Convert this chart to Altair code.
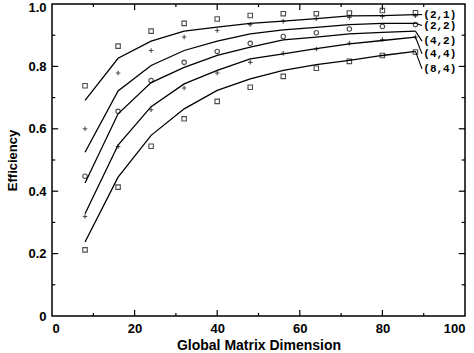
import altair as alt
import pandas as pd

sizes = [8, 16, 24, 32, 40, 48, 56, 64, 72, 80, 88]
series = ["(2,1)", "(2,2)", "(4,2)", "(4,4)", "(8,4)"]

# measured efficiencies (markers)
m21 = [0.738, 0.865, 0.913, 0.938, 0.952, 0.963, 0.969, 0.969, 0.971, 0.979, 0.972]
m22 = [0.600, 0.779, 0.851, 0.894, 0.915, 0.934, 0.945, 0.953, 0.957, 0.960, 0.962]
m42 = [0.448, 0.656, 0.755, 0.813, 0.848, 0.874, 0.896, 0.908, 0.920, 0.928, 0.934]
m44 = [0.319, 0.543, 0.661, 0.731, 0.779, 0.813, 0.842, 0.856, 0.874, 0.886, 0.894]
m84 = [0.212, 0.413, 0.544, 0.632, 0.688, 0.733, 0.768, 0.794, 0.816, 0.835, 0.846]

# predicted efficiencies (lines)
p21 = [0.691, 0.826, 0.881, 0.913, 0.926, 0.938, 0.945, 0.953, 0.962, 0.963, 0.966]
p22 = [0.525, 0.721, 0.803, 0.851, 0.881, 0.904, 0.917, 0.925, 0.934, 0.938, 0.938]
p42 = [0.426, 0.648, 0.748, 0.797, 0.835, 0.862, 0.885, 0.894, 0.904, 0.909, 0.913]
p44 = [0.328, 0.548, 0.671, 0.744, 0.787, 0.824, 0.840, 0.857, 0.872, 0.883, 0.894]
p84 = [0.237, 0.445, 0.579, 0.664, 0.723, 0.760, 0.787, 0.806, 0.819, 0.835, 0.848]

label_y = [0.966, 0.931, 0.881, 0.840, 0.792]
label_x = 89.9

x_ticks = [0, 20, 40, 60, 80, 100]
y_ticks = [0, 0.2, 0.4, 0.6, 0.8, 1.0]
x_major = [20, 40, 60, 80]
x_minor = [10, 30, 50, 70, 90]
y_major = [0.2, 0.4, 0.6, 0.8]
y_minor = [0.1, 0.3, 0.5, 0.7, 0.9]

measured = [m21, m22, m42, m44, m84]
predicted = [p21, p22, p42, p44, p84]
shape_map = {
    "(2,1)": "square",
    "(2,2)": "M-1,0L1,0M0,-1L0,1",
    "(4,2)": "circle",
    "(4,4)": "M-1,0L1,0M0,-1L0,1",
    "(8,4)": "square",
}

pts = pd.DataFrame([
    {"s": s, "x": x, "y": v, "shape": shape_map[s]}
    for s, vals in zip(series, measured) for x, v in zip(sizes, vals)
])
lines = pd.DataFrame([
    {"s": s, "x": x, "y": v}
    for s, vals in zip(series, predicted) for x, v in zip(sizes, vals)
])
leaders = pd.DataFrame([
    {"s": s, "x": sizes[-1], "y": vals[-1], "x2": label_x - 0.3, "y2": ly}
    for s, vals, ly in zip(series, predicted, label_y)
])
labels = pd.DataFrame({"s": series, "x": [label_x] * 5, "y": label_y})

XL = 1.5   # tick length in x units
YL = 0.019 # tick length in y units
XS = 0.8
YS = 0.010
tick_rows = []
for v in x_major:
    tick_rows.append({"x": v, "x2": v, "y": 0, "y2": YL})
    tick_rows.append({"x": v, "x2": v, "y": 1, "y2": 1 - YL})
for v in x_minor:
    tick_rows.append({"x": v, "x2": v, "y": 0, "y2": YS})
    tick_rows.append({"x": v, "x2": v, "y": 1, "y2": 1 - YS})
for v in y_major:
    tick_rows.append({"x": 0, "x2": XL, "y": v, "y2": v})
    tick_rows.append({"x": 100, "x2": 100 - XL, "y": v, "y2": v})
for v in y_minor:
    tick_rows.append({"x": 0, "x2": XS, "y": v, "y2": v})
    tick_rows.append({"x": 100, "x2": 100 - XS, "y": v, "y2": v})
ticks = pd.DataFrame(tick_rows)

FONT = "Liberation Sans"
xs = alt.Scale(domain=[0, 100], nice=False)
ys = alt.Scale(domain=[0, 1], nice=False)

xaxis = alt.Axis(values=x_ticks, ticks=False, domain=False, grid=False,
                 labelFont=FONT, labelFontWeight="bold", labelFontSize=13,
                 labelColor="black", labelPadding=6,
                 title="Global Matrix Dimension", titleFont=FONT,
                 titleFontWeight="bold", titleFontSize=14, titleColor="black",
                 titlePadding=3)
yaxis = alt.Axis(values=y_ticks, ticks=False, domain=False, grid=False,
                 labelFont=FONT, labelFontWeight="bold", labelFontSize=13,
                 labelColor="black", labelPadding=6,
                 labelBaseline={"condition": {"test": "datum.value == 1", "value": "top"},
                                "value": "middle"},
                 labelOffset={"condition": {"test": "datum.value == 1", "value": -3},
                              "value": 0},
                 labelExpr="datum.value == 0 ? '0' : format(datum.value, '.1f')",
                 title="Efficiency", titleFont=FONT, titleFontWeight="bold",
                 titleFontSize=13, titleColor="black", titlePadding=8)

line_layer = alt.Chart(lines).mark_line(color="black", strokeWidth=1.3).encode(
    x=alt.X("x:Q", scale=xs, axis=xaxis),
    y=alt.Y("y:Q", scale=ys, axis=yaxis),
    detail="s:N",
)
leader_layer = alt.Chart(leaders).mark_rule(color="black", strokeWidth=1.1).encode(
    x="x:Q", x2="x2:Q", y="y:Q", y2="y2:Q"
)
point_layer = alt.Chart(pts).mark_point(filled=False, color="black", size=20,
                                        strokeWidth=1.1).encode(
    x="x:Q", y="y:Q",
    shape=alt.Shape("shape:N", scale=None),
)
text_layer = alt.Chart(labels).mark_text(align="left", baseline="middle",
                                         font="Liberation Mono", fontWeight="bold",
                                         fontSize=11, color="black").encode(
    x="x:Q", y="y:Q", text="s:N"
)
tick_layer = alt.Chart(ticks).mark_rule(color="black", strokeWidth=1.2).encode(
    x="x:Q", x2="x2:Q", y="y:Q", y2="y2:Q"
)

chart = alt.layer(tick_layer, line_layer, leader_layer, point_layer, text_layer).properties(
    width=413, height=312,
    autosize=alt.AutoSizeParams(type="none"),
    padding={"left": 52, "top": 4, "right": 9, "bottom": 37},
    background="white",
).configure_view(stroke="black", strokeWidth=1.5)

chart.save("out.html", embed_options={"renderer": "svg", "actions": False})
